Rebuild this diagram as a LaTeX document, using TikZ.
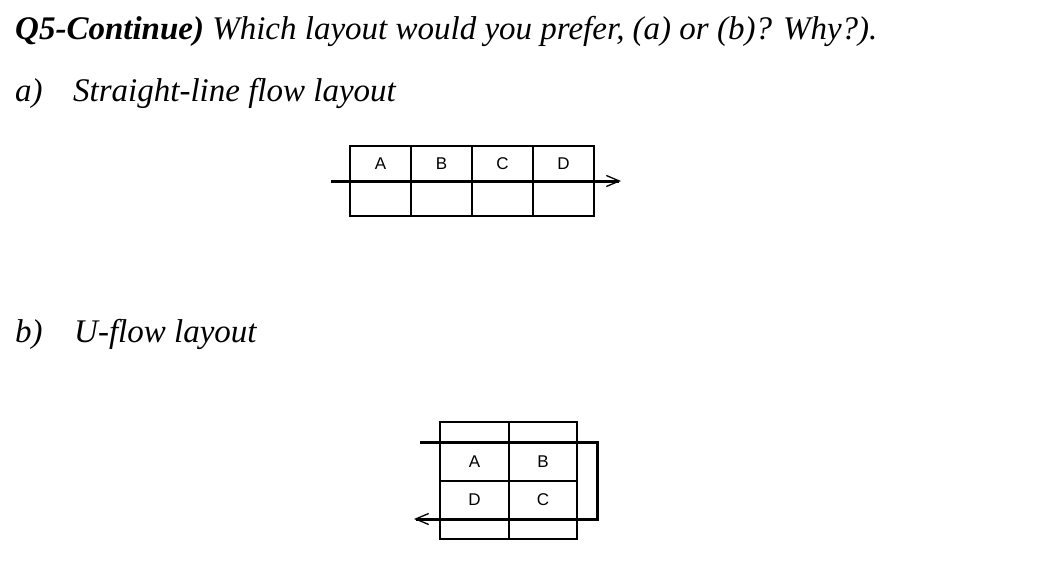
\documentclass[tikz,border=0pt]{standalone}
\usepackage{fontspec}
\setmainfont{Liberation Serif}
\newfontfamily\celdafont{Liberation Sans}
\usetikzlibrary{positioning,arrows.meta}

\begin{document}
\begin{tikzpicture}[x=1pt,y=-1pt,
    texto/.style={anchor=base west,inner sep=0pt,
      font=\fontsize{33}{33}\selectfont\itshape},
    celda/.style={draw,line width=1.4pt,outer sep=0pt,inner sep=0pt,
      minimum width=61pt,minimum height=35pt,
      font=\celdafont\fontsize{17}{17}\selectfont},
    flujo/.style={line width=3pt,
      -{Straight Barb[length=13pt,width=11pt,line width=1.3pt]}}]

    % Paso 1: Marco de la figura
    \useasboundingbox (0,0) rectangle (1047,575);

    % Paso 2: Enunciado y rotulos
    \node[texto] (q5) at (15,40) {\textbf{Q5-Continue)} Which layout would you prefer, (a) or (b)? Why?).};
    \node[texto] (ra) at (15,102) {a)};
    \node[texto] (ta) at (73,102) {Straight-line flow layout};
    \node[texto] (rb) at (15,342) {b)};
    \node[texto] (tb) at (74,342) {U-flow layout};

    % Paso 3: Distribucion en linea (a)
    \node[celda] (a1) at (380.5,163.5) {A};
    \node[celda,right=0pt of a1] (b1) {B};
    \node[celda,right=0pt of b1] (c1) {C};
    \node[celda,right=0pt of c1] (d1) {D};
    \node[celda,below=0pt of a1] (a2) {};
    \node[celda,below=0pt of b1] (b2) {};
    \node[celda,below=0pt of c1] (c2) {};
    \node[celda,below=0pt of d1] (d2) {};

    % Paso 4: Flujo recto
    \coordinate (ia) at (331,181);
    \coordinate (fa) at (621,181);
    \draw[flujo] (ia) -- (fa);

    % Paso 5: Distribucion en U (b)
    \node[celda,minimum width=69pt,minimum height=39pt] (ub) at (474.5,461.5) {A};
    \node[celda,minimum width=68pt,minimum height=39pt,right=0pt of ub] (ubb) {B};
    \node[celda,minimum width=69pt,minimum height=38pt,below=0pt of ub] (ud) {D};
    \node[celda,minimum width=68pt,minimum height=38pt,below=0pt of ubb] (uc) {C};
    \node[celda,minimum width=69pt,minimum height=20pt,above=0pt of ub] (us1) {};
    \node[celda,minimum width=68pt,minimum height=20pt,above=0pt of ubb] (us2) {};
    \node[celda,minimum width=69pt,minimum height=20pt,below=0pt of ud] (ui1) {};
    \node[celda,minimum width=68pt,minimum height=20pt,below=0pt of uc] (ui2) {};

    % Paso 6: Flujo en U
    \coordinate (ib) at (420,442);
    \coordinate (gb1) at (597,442);
    \coordinate (gb2) at (597,519);
    \coordinate (fb) at (414,519);
    \draw[flujo] (ib) -- (gb1) -- (gb2) -- (fb);
\end{tikzpicture}
\end{document}
